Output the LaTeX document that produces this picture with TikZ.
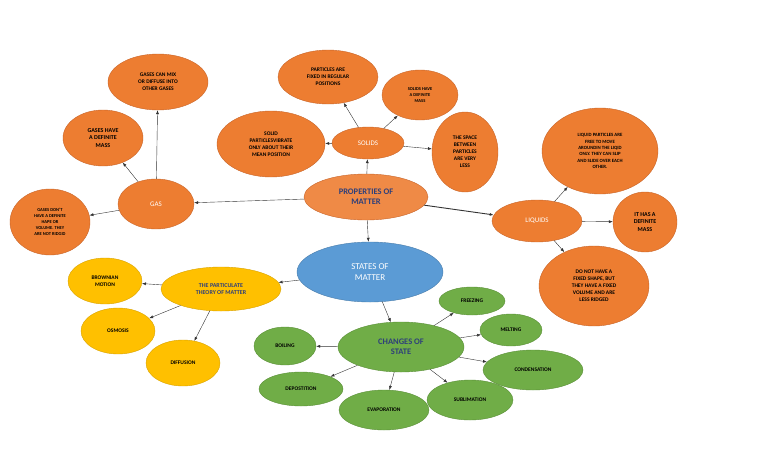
\documentclass[tikz,border=0pt]{standalone}
\usepackage{fontspec}
\setmainfont{Carlito}
\usetikzlibrary{shapes.geometric,arrows.meta}
\definecolor{org}{HTML}{ED7D31}
\definecolor{orgd}{HTML}{C8652A}
\definecolor{grn}{HTML}{70AD47}
\definecolor{grnd}{HTML}{5A8F38}
\definecolor{yel}{HTML}{FFC000}
\definecolor{yeld}{HTML}{D9A300}
\definecolor{blu}{HTML}{5B9BD5}
\definecolor{ttl}{HTML}{2E3F7A}
\tikzset{
 el/.style args={#1/#2}{ellipse,inner sep=0pt,minimum width=#1pt,minimum height=#2pt,align=center,font=\bfseries\fontsize{5.5}{7}\selectfont},
 on/.style={fill=org,draw=orgd,line width=0.4pt},
 gn/.style={fill=grn,draw=grnd,line width=0.4pt},
 yn/.style={fill=yel,draw=yeld,line width=0.4pt},
 ar/.style={-{Latex[length=4pt,width=3pt]},line width=0.4pt,black!80},
 wt/.style={text=white,font=\fontsize{7}{8}\selectfont},
 tt/.style={text=ttl,font=\bfseries\fontsize{8.5}{10}\selectfont}
}
\begin{document}
\begin{tikzpicture}[x=1pt,y=-1pt]
\useasboundingbox (0,0) rectangle (768,466);
\node[el=100/56,on] (gmix) at (158,82) {GASES CAN MIX\\OR DIFFUSE INTO\\OTHER GASES};
\node[el=80/56,on,font=\bfseries\fontsize{6}{7.5}\selectfont] (gmass) at (103,138) {GASES HAVE\\A DEFINITE\\MASS};
\node[el=80/66,on,font=\bfseries\fontsize{4.5}{6}\selectfont] (gdont) at (50,222) {GASES DON'T\\HAVE A DEFINITE\\HAPE OR\\VOLUME. THEY\\ARE NOT RIDGID};
\node[el=76/50,on,wt] (gas) at (156,204) {GAS};
\node[el=100/54,on] (sfix) at (328,77) {PARTICLES ARE\\FIXED IN REGULAR\\POSITIONS};
\node[el=76/50,on,font=\bfseries\fontsize{4.5}{6}\selectfont] (smass) at (420,95) {SOLIDS HAVE\\A DEFINITE\\MASS};
\node[el=108/66,on] (svib) at (271,144) {SOLID\\PARTICLESVIBRATE\\ONLY ABOUT THEIR\\MEAN POSITION};
\node[el=72/32,on,wt] (solids) at (368,143) {SOLIDS};
\node[el=66/80,on] (space) at (465,152) {THE SPACE\\BETWEEN\\PARTICLES\\ARE VERY\\LESS};
\node[el=124/46,fill=org!90!white,draw=orgd,tt] (prop) at (366,197) {PROPERTIES OF\\MATTER};
\node[el=116/86,on,font=\bfseries\fontsize{4.8}{6.3}\selectfont] (lfree) at (600,151) {LIQUID PARTICLES ARE\\FREE TO MOVE\\AROUNDIN THE LIQID\\ONLY. THEY CAN SLIP\\AND SLIDE OVER EACH\\OTHER.};
\node[el=90/42,on,wt] (liq) at (537,221) {LIQUIDS};
\node[el=64/60,on,font=\bfseries\fontsize{6}{7.5}\selectfont] (lmass) at (645,222) {IT HAS A\\DEFINITE\\MASS};
\node[el=110/80,on] (lshape) at (594,286) {DO NOT HAVE A\\FIXED SHAPE, BUT\\THEY HAVE A FIXED\\VOLUME AND ARE\\LESS RIDGED};
\node[el=146/60,fill=blu,draw=blu!80!black,text=white,font=\fontsize{9}{10.5}\selectfont] (states) at (370,272) {STATES OF\\MATTER};
\node[el=120/44,yn,tt,font=\bfseries\fontsize{6}{7.5}\selectfont] (part) at (221,289) {THE PARTICULATE\\THEORY OF MATTER};
\node[el=74/46,yn] (brown) at (105,281) {BROWNIAN\\MOTION};
\node[el=74/46,yn] (osm) at (118,331) {OSMOSIS};
\node[el=74/46,yn] (diff) at (183,363) {DIFFUSION};
\node[el=126/50,gn,tt] (chg) at (401,347) {CHANGES OF\\STATE};
\node[el=66/28,gn] (frz) at (472,301) {FREEZING};
\node[el=62/32,gn] (melt) at (511,330) {MELTING};
\node[el=100/40,gn] (cond) at (533,370) {CONDENSATION};
\node[el=86/40,gn] (subl) at (470,400) {SUBLIMATION};
\node[el=90/40,gn] (evap) at (384,410) {EVAPORATION};
\node[el=84/34,gn] (depo) at (301,389) {DEPOSTITION};
\node[el=62/38,gn] (boil) at (285,346) {BOILING};
\draw[ar] (gas) -- (gmix);
\draw[ar] (gas) -- (gmass);
\draw[ar] (gas) -- (gdont);
\draw[ar] (prop) -- (gas);
\draw[ar] (prop) -- (solids);
\draw[ar] (solids) -- (sfix);
\draw[ar] (solids) -- (smass);
\draw[ar] (solids) -- (svib);
\draw[ar] (solids) -- (space);
\draw[ar,line width=0.9pt] (prop) -- (liq);
\draw[ar] (liq) -- (lfree);
\draw[ar] (liq) -- (lmass);
\draw[ar] (liq) -- (lshape);
\draw[ar] (prop) -- (states);
\draw[ar] (states) -- (part);
\draw[ar] (states) -- (chg);
\draw[ar] (part) -- (brown);
\draw[ar] (part) -- (osm);
\draw[ar] (part) -- (diff);
\draw[ar] (chg) -- (frz);
\draw[ar] (chg) -- (melt);
\draw[ar] (chg) -- (cond);
\draw[ar] (chg) -- (subl);
\draw[ar] (chg) -- (evap);
\draw[ar] (chg) -- (depo);
\draw[ar] (chg) -- (boil);
\end{tikzpicture}
\end{document}
